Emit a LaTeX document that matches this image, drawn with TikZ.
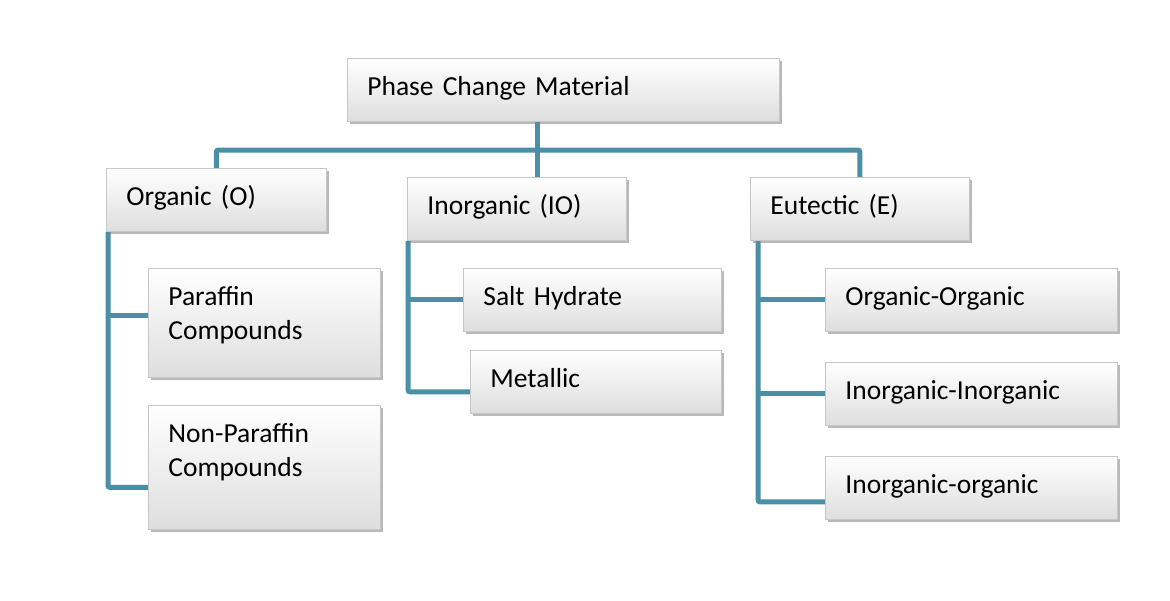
\documentclass[tikz,border=0pt]{standalone}
\usepackage{fontspec}
\setmainfont{Carlito}
\usetikzlibrary{shadows,backgrounds}
\definecolor{linkteal}{RGB}{74,143,166}
\begin{document}
\begin{tikzpicture}[x=1pt, y=-1pt,
  box/.style={draw=black!22, line width=0.8pt, top color=white, bottom color=black!13,
    drop shadow={shadow xshift=2.5pt, shadow yshift=-3pt, fill=black!50, opacity=0.55},
    anchor=north west, align=left, inner xsep=20pt, inner ysep=17pt,
    text height=20pt, text depth=9pt, font=\fontsize{27.5}{34}\selectfont},
  link/.style={draw=linkteal, line width=5pt, rounded corners=2pt}]
\useasboundingbox (0,0) rectangle (1170,600);

\node[box, text width=392pt] (pcm) at (347,58) {Phase Change Material};

\node[box, text width=180pt] (org) at (106,168) {Organic (O)};
\node[box, text width=179pt] (inorg) at (407,177) {Inorganic (IO)};
\node[box, text width=179pt] (eut) at (750,177) {Eutectic (E)};

\node[box, text width=192pt, text depth=55pt] (par) at (148,268) {Paraffin\\Compounds};
\node[box, text width=192pt, text depth=70pt] (np) at (148,405) {Non-Paraffin\\Compounds};

\node[box, text width=218pt] (salt) at (463,268) {Salt Hydrate};
\node[box, text width=211pt] (met) at (470,350) {Metallic};

\node[box, text width=252pt] (eoo) at (825,268) {Organic-Organic};
\node[box, text width=252pt] (eii) at (825,362) {Inorganic-Inorganic};
\node[box, text width=252pt] (eio) at (825,456) {Inorganic-organic};

\coordinate (bus) at (537,150);
\coordinate (orgtrunk) at ([xshift=2pt]org.south west);
\coordinate (inorgtrunk) at ([xshift=1pt]inorg.south west);
\coordinate (euttrunk) at ([xshift=8pt]eut.south west);
\coordinate (parin) at ([yshift=7pt]par.west);
\coordinate (npin) at ([yshift=-20pt]np.west);
\coordinate (metin) at ([yshift=-10pt]met.west);
\coordinate (eioin) at ([yshift=-14pt]eio.west);

\begin{scope}[on background layer]
\fill[white] (0,0) rectangle (1170,600);
\draw[link] (org.north) |- (bus) -| (eut.north);
\draw[link] (pcm.south -| bus) -- (inorg.north -| bus);

\draw[link] (orgtrunk) |- (npin);
\draw[link] (orgtrunk |- parin) -- (parin);

\draw[link] (inorgtrunk) |- (metin);
\draw[link] (inorgtrunk |- salt.west) -- (salt.west);

\draw[link] (euttrunk) |- (eioin);
\draw[link] (euttrunk |- eoo.west) -- (eoo.west);
\draw[link] (euttrunk |- eii.west) -- (eii.west);
\end{scope}
\end{tikzpicture}
\end{document}
